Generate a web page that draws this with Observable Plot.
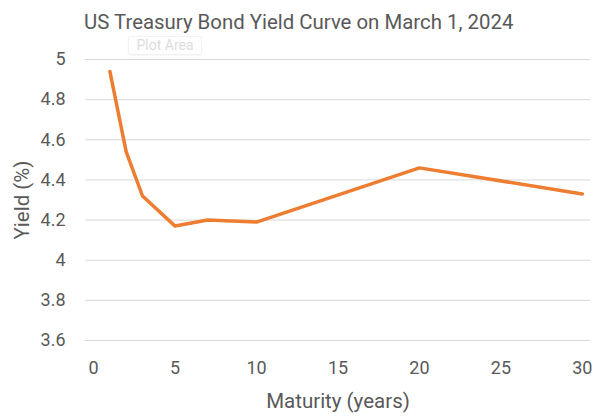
<!DOCTYPE html>
<html>
<head>
<meta charset="utf-8">
<script src="https://cdn.jsdelivr.net/npm/d3@7"></script>
<script src="https://cdn.jsdelivr.net/npm/@observablehq/plot@0.6"></script>
<style>
  html, body { margin: 0; padding: 0; background: white; }
  #wrap { position: relative; width: 599px; height: 418px; font-family: Roboto, sans-serif; }
  #title { height: 40px; box-sizing: border-box; padding: 10px 0 0 84px; font-size: 20.4px; line-height: 24px; color: #595959; white-space: nowrap; }
  #tip { position: absolute; left: 128px; top: 36px; width: 72px; height: 17px; background: white; border: 1px solid #f2f2f2; border-radius: 2px; box-shadow: 0 1px 2px rgba(0,0,0,0.04); font-size: 14px; line-height: 17px; color: #dcdcdc; text-align: center; }
  svg { display: block; }
</style>
</head>
<body>
<div id="wrap">
  <div id="title">US Treasury Bond Yield Curve on March 1, 2024</div>
  <div id="chart"></div>
  <div id="tip">Plot Area</div>
</div>
<script>
const maturities = [1, 2, 3, 5, 7, 10, 20, 30];
const yields = [4.94, 4.54, 4.32, 4.17, 4.20, 4.19, 4.46, 4.33];
const xTicks = [0, 5, 10, 15, 20, 25, 30];
const yTicks = [3.6, 3.8, 4, 4.2, 4.4, 4.6, 4.8, 5];
const xLabel = "Maturity (years)";
const yLabel = "Yield (%)";

const data = maturities.map((m, i) => ({maturity: m, yield: yields[i]}));

const chart = Plot.plot({
  width: 599,
  height: 378,
  marginTop: 19,
  marginBottom: 78,
  marginLeft: 85,
  marginRight: 9,
  style: {fontFamily: "Roboto, sans-serif", fontSize: "18px", color: "#595959", background: "white", overflow: "visible"},
  x: {domain: [-0.5, 30.5]},
  y: {domain: [3.6, 5]},
  marks: [
    Plot.gridY(yTicks, {stroke: "#d9d9d9", strokeOpacity: 1, strokeWidth: 1}),
    Plot.axisY(yTicks, {tickSize: 0, tickPadding: 20, label: null, fontSize: 18, tickFormat: d => String(d)}),
    Plot.axisX(xTicks, {tickSize: 0, tickPadding: 21, label: null, fontSize: 18}),
    Plot.text([yLabel], {frameAnchor: "left", textAnchor: "middle", lineAnchor: "middle", dx: -63, rotate: -90, fontSize: 20.5, fill: "#595959"}),
    Plot.text([xLabel], {frameAnchor: "bottom", textAnchor: "middle", lineAnchor: "middle", dy: 61, fontSize: 20.5, fill: "#595959"}),
    Plot.line(data, {x: "maturity", y: "yield", stroke: "#ED7D31", strokeWidth: 3.5, strokeLinejoin: "round", strokeLinecap: "round"})
  ]
});
document.getElementById("chart").appendChild(chart);
</script>
</body>
</html>
